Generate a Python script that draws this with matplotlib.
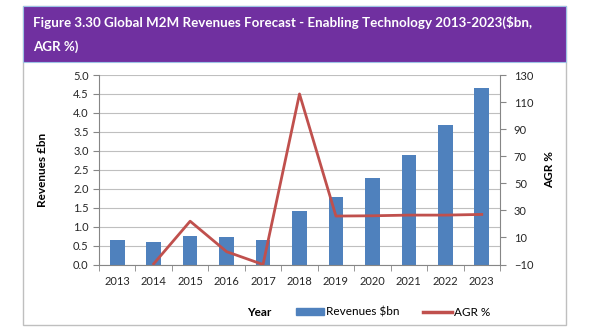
import matplotlib
matplotlib.use('Agg')
import matplotlib.pyplot as plt
import matplotlib.patches as mpatches
from matplotlib.lines import Line2D
import numpy as np

# data
years = ['2013', '2014', '2015', '2016', '2017', '2018', '2019', '2020', '2021', '2022', '2023']
revenues = [0.66, 0.60, 0.74, 0.73, 0.65, 1.42, 1.79, 2.28, 2.88, 3.67, 4.67]
agr = [np.nan, -9.5, 22, -0.5, -10, 116, 25.8, 26.0, 26.5, 26.5, 27]

blue = '#4F81BD'
red = '#C0504D'
purple = '#7030A0'
grey = '#868686'

plt.rcParams['font.family'] = ['Lato', 'DejaVu Sans']

fig = plt.figure(figsize=(5.95, 3.35), dpi=100)
fig.patch.set_facecolor('white')

# outer chart frame and purple header
fig.patches.append(mpatches.Rectangle((0.0387, 0.030), 0.9126, 0.952, transform=fig.transFigure,
                                      facecolor='white', edgecolor='#BFBFBF', lw=1.0, zorder=-2))
fig.patches.append(mpatches.Rectangle((0.0387, 0.815), 0.9126, 0.167, transform=fig.transFigure,
                                      facecolor=purple, edgecolor='#9DC3E6', lw=0.8, zorder=-1))
fig.text(0.055, 0.934, 'Figure 3.30 Global M2M Revenues Forecast - Enabling Technology 2013-2023($bn,',
         color='white', fontsize=9.6, fontweight='bold', va='center', ha='left')
fig.text(0.055, 0.860, 'AGR %)', color='white', fontsize=9.6, fontweight='bold', va='center', ha='left')

ax = fig.add_axes([0.1664, 0.2104, 0.6739, 0.5657])
ax.set_facecolor('none')
x = np.arange(len(years))
ax.bar(x, revenues, width=0.4, color=blue, zorder=2, label='Revenues $bn')
ax.set_xlim(-0.5, len(years) - 0.5)
ax.set_ylim(0, 5)
ax.set_yticks(np.arange(0, 5.01, 0.5))
ax.set_yticklabels(['%.1f' % v for v in np.arange(0, 5.01, 0.5)])
ax.yaxis.grid(True, color='#BFBFBF', lw=0.8, zorder=0)
ax.set_axisbelow(True)
ax.set_xticks(x)
ax.set_xticklabels(years)
ax.set_xticks(np.arange(-0.5, len(years), 1.0), minor=True)
ax.tick_params(axis='x', which='major', length=0, labelsize=8, pad=8, colors='#262626')
ax.tick_params(axis='x', which='minor', length=4, color=grey, direction='out')
ax.tick_params(axis='y', length=4, color=grey, labelsize=8, labelcolor='#262626')
for s in ['top', 'right']:
    ax.spines[s].set_visible(False)
for s in ['left', 'bottom']:
    ax.spines[s].set_color(grey)
    ax.spines[s].set_linewidth(0.8)
ax.set_ylabel('Revenues £bn', fontsize=8.5, fontweight='bold', labelpad=18)

ax2 = ax.twinx()
ax2.plot(x, agr, color=red, lw=2.0, zorder=3, label='AGR %')
ax2.set_ylim(-10, 130)
ax2.set_yticks(np.arange(-10, 131, 20))
ax2.tick_params(axis='y', length=4, color=grey, labelsize=8, labelcolor='#262626', pad=6)
for s in ['top', 'left', 'bottom']:
    ax2.spines[s].set_visible(False)
ax2.spines['right'].set_color(grey)
ax2.spines['right'].set_linewidth(0.8)
ax2.set_ylabel('AGR %', fontsize=8.5, fontweight='bold', labelpad=8)

fig.text(259 / 595, 1 - 312 / 335, 'Year', fontsize=8.5, fontweight='bold', ha='center', va='center')
handles = [mpatches.Patch(color=blue), Line2D([0], [0], color=red, lw=2.5)]
fig.legend(handles, ['Revenues $bn', 'AGR %'], loc='center', bbox_to_anchor=(393 / 595, 1 - 312 / 335),
           ncol=2, frameon=False, fontsize=8.5, handlelength=2.4, handleheight=0.5,
           handletextpad=0.2, columnspacing=2.0)

fig.savefig('out.png', dpi=100)
